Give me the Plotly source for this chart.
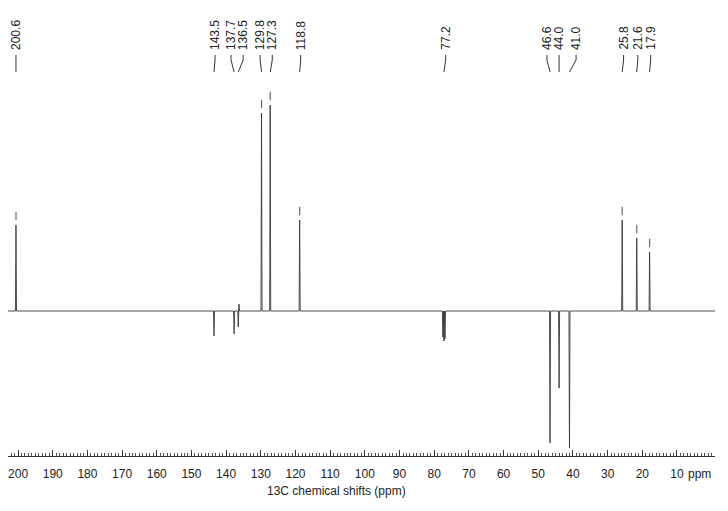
import plotly.graph_objects as go

# ---- data (ppm, relative intensity) ----
peak_ppm = [200.6, 143.5, 137.7, 136.5, 129.8, 127.3, 118.8, 77.5, 77.2, 76.9, 46.6, 44.0, 41.0, 25.8, 21.6, 17.9]
peak_int = [86, -25, -23, -16, 198, 206, 91, -26, -30, -28, -132, -77, -137, 91, 73, 59]
artifact_ppm = [136.3]
artifact_int = [7]

label_ppm = [200.6, 143.5, 137.7, 136.5, 129.8, 127.3, 118.8, 77.2, 46.6, 44.0, 41.0, 25.8, 21.6, 17.9]
label_text = ["200.6", "143.5", "137.7", "136.5", "129.8", "127.3", "118.8", "77.2", "46.6", "44.0", "41.0", "25.8", "21.6", "17.9"]
# label displacement (ppm) used to avoid overlap of crowded labels (layout only)
label_shift = [0, -0.3, 0.9, -1.4, 0.4, -0.6, -0.3, -0.5, 0.9, 0, -1.9, -0.4, -0.3, -0.3]

marked_ppm = [200.6, 129.8, 127.3, 118.8, 25.8, 21.6, 17.9]

tick_vals = [200, 190, 180, 170, 160, 150, 140, 130, 120, 110, 100, 90, 80, 70, 60, 50, 40, 30, 20, 10]

X_MAX, X_MIN = 202.9, -0.96
HALF_WIDTH = 0.15
FONT = "Liberation Sans, Arial"

# ---- build spectrum polyline from the peak list ----
all_peaks = sorted(zip(peak_ppm + artifact_ppm, peak_int + artifact_int), key=lambda p: -p[0])
xs, ys = [X_MAX], [0]
for p, h in all_peaks:
    xs += [p + HALF_WIDTH, p, p - HALF_WIDTH]
    ys += [0, h, 0]
xs.append(X_MIN)
ys.append(0)

fig = go.Figure()
fig.add_trace(go.Scatter(x=xs, y=ys, mode="lines",
                         line=dict(color="#383838", width=0.9),
                         hoverinfo="skip", showlegend=False))

# peak-pick marks above positive peaks
intensity = dict(zip(peak_ppm, peak_int))
fig.add_trace(go.Scatter(x=marked_ppm, y=[intensity[p] + 9 for p in marked_ppm],
                         mode="markers",
                         marker=dict(symbol="line-ns-open", size=6, color="#666",
                                     line=dict(color="#666", width=1.2)),
                         hoverinfo="skip", showlegend=False))

# leader lines for peak labels
Y_TOP, Y_BEND, Y_BOT = 256, 251, 239
lx, ly = [], []
for p, s in zip(label_ppm, label_shift):
    lx += [p + s, p + s, p, None]
    ly += [Y_TOP, Y_BEND, Y_BOT, None]
fig.add_trace(go.Scatter(x=lx, y=ly, mode="lines",
                         line=dict(color="#333", width=1),
                         hoverinfo="skip", showlegend=False))

for p, s, t in zip(label_ppm, label_shift, label_text):
    fig.add_annotation(x=p + s, y=Y_TOP + 3, text=t, textangle=-90,
                       showarrow=False, xanchor="center", yanchor="bottom",
                       font=dict(family=FONT, size=12, color="#222"))

fig.add_annotation(x=3.4, xref="x", y=-0.02, yref="paper", text="ppm",
                   showarrow=False, xanchor="center", yanchor="top",
                   font=dict(family=FONT, size=12, color="#222"))
fig.add_annotation(x=328 / 707, xref="paper", y=-0.058, yref="paper",
                   text="13C chemical shifts (ppm)", showarrow=False,
                   xanchor="center", yanchor="top",
                   font=dict(family=FONT, size=12, color="#222"))

fig.update_layout(
    width=728, height=511,
    margin=dict(l=0, r=21, t=0, b=63),
    paper_bgcolor="white", plot_bgcolor="white",
    xaxis=dict(range=[X_MAX, X_MIN], showgrid=False, zeroline=False,
               showline=True, linecolor="#333", linewidth=1,
               ticks="inside", ticklen=6, tickwidth=1, tickcolor="#333",
               tickvals=tick_vals, ticktext=[str(v) for v in tick_vals],
               ticklabelstandoff=7,
               tickfont=dict(family=FONT, size=12, color="#222"),
               minor=dict(ticks="inside", ticklen=3, dtick=1, tickcolor="#555", showgrid=False)),
    yaxis=dict(range=[-145, 303], visible=False, showgrid=False, zeroline=False),
)

fig.write_html("out.html")
